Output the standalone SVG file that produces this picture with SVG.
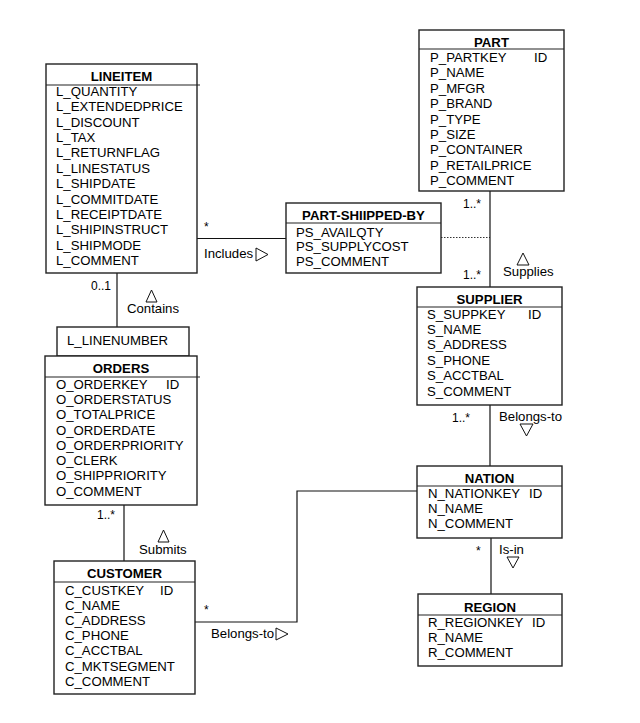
<svg xmlns="http://www.w3.org/2000/svg" width="640" height="723" viewBox="0 0 640 723">
<style>
.box{fill:#fff;stroke:#222;stroke-width:1.4}
.sep{stroke:#222;stroke-width:1.2}
.ln{stroke:#111;stroke-width:1.2;fill:none}
.dot{stroke:#333;stroke-width:1;stroke-dasharray:1.5 1.5;fill:none}
.tri{fill:#fff;stroke:#111;stroke-width:1}
text{font-family:"Liberation Sans",Arial,sans-serif;font-size:13.2px;fill:#000}
.t{font-weight:bold;text-anchor:middle}
.m{font-size:12px}
</style>
<rect width="640" height="723" fill="#fff"/>
<g id="connectors">
<line class="ln" x1="197" y1="238.5" x2="286" y2="238.5"/>
<line class="dot" x1="441" y1="237.5" x2="490" y2="237.5"/>
<line class="ln" x1="490" y1="191" x2="490" y2="287"/>
<line class="ln" x1="490" y1="405" x2="490" y2="466"/>
<line class="ln" x1="491" y1="538" x2="491" y2="594"/>
<line class="ln" x1="117" y1="273" x2="117" y2="327"/>
<line class="ln" x1="124" y1="505" x2="124" y2="561"/>
<polyline class="ln" points="417,491 297,491 297,622 195,622"/>
<text x="204" y="231" class="m">*</text>
<text x="204" y="258">Includes</text>
<polygon class="tri" points="256,248 256,261 268,254.5"/>
<text x="463" y="208" class="m">1..*</text>
<text x="463" y="279" class="m">1..*</text>
<polygon class="tri" points="517,265 529,265 523,253"/>
<text x="503" y="276">Supplies</text>
<text x="452" y="422" class="m">1..*</text>
<text x="499" y="421">Belongs-to</text>
<polygon class="tri" points="520,424 533,424 526.5,436"/>
<text x="476" y="555" class="m">*</text>
<text x="499" y="554">Is-in</text>
<polygon class="tri" points="507,557 519,557 513,568"/>
<text x="91" y="290" class="m">0..1</text>
<polygon class="tri" points="146,302 157,302 151.5,290"/>
<text x="127" y="313">Contains</text>
<text x="97" y="519" class="m">1..*</text>
<polygon class="tri" points="158,542 169,542 163.5,530"/>
<text x="139" y="554">Submits</text>
<text x="204" y="614" class="m">*</text>
<text x="211" y="638">Belongs-to</text>
<polygon class="tri" points="276,628 276,640 288,634"/>
</g>
<g id="lineitem">
<rect class="box" x="46" y="64" width="151" height="209"/>
<line class="sep" x1="46" y1="85" x2="200" y2="85"/>
<text x="121.5" y="80.5" class="t">LINEITEM</text>
<text x="56" y="96">L_QUANTITY</text>
<text x="56" y="111.4">L_EXTENDEDPRICE</text>
<text x="56" y="126.7">L_DISCOUNT</text>
<text x="56" y="142.1">L_TAX</text>
<text x="56" y="157.4">L_RETURNFLAG</text>
<text x="56" y="172.8">L_LINESTATUS</text>
<text x="56" y="188.1">L_SHIPDATE</text>
<text x="56" y="203.5">L_COMMITDATE</text>
<text x="56" y="218.8">L_RECEIPTDATE</text>
<text x="56" y="234.2">L_SHIPINSTRUCT</text>
<text x="56" y="249.5">L_SHIPMODE</text>
<text x="56" y="264.9">L_COMMENT</text>
</g>
<g id="part">
<rect class="box" x="419" y="30" width="145" height="161"/>
<line class="sep" x1="419" y1="49" x2="564" y2="49"/>
<text x="491.5" y="46.5" class="t">PART</text>
<text x="430" y="62">P_PARTKEY</text>
<text x="534" y="62">ID</text>
<text x="430" y="77.4">P_NAME</text>
<text x="430" y="92.8">P_MFGR</text>
<text x="430" y="108.2">P_BRAND</text>
<text x="430" y="123.6">P_TYPE</text>
<text x="430" y="139">P_SIZE</text>
<text x="430" y="154.4">P_CONTAINER</text>
<text x="430" y="169.8">P_RETAILPRICE</text>
<text x="430" y="185.2">P_COMMENT</text>
</g>
<g id="partsupp">
<rect class="box" x="286" y="203" width="155" height="70"/>
<line class="sep" x1="286" y1="223" x2="441" y2="223"/>
<text x="363.5" y="219.6" class="t">PART-SHIIPPED-BY</text>
<text x="296" y="237">PS_AVAILQTY</text>
<text x="296" y="251">PS_SUPPLYCOST</text>
<text x="296" y="265.5">PS_COMMENT</text>
</g>
<g id="supplier">
<rect class="box" x="417" y="287" width="145" height="118"/>
<line class="sep" x1="417" y1="307" x2="562" y2="307"/>
<text x="489.5" y="303.6" class="t">SUPPLIER</text>
<text x="427" y="318.6">S_SUPPKEY</text>
<text x="528" y="318.6">ID</text>
<text x="427" y="334">S_NAME</text>
<text x="427" y="349.4">S_ADDRESS</text>
<text x="427" y="364.8">S_PHONE</text>
<text x="427" y="380.2">S_ACCTBAL</text>
<text x="427" y="395.6">S_COMMENT</text>
</g>
<g id="nation">
<rect class="box" x="417" y="466" width="145" height="72"/>
<line class="sep" x1="417" y1="486" x2="562" y2="486"/>
<text x="489.5" y="482.6" class="t">NATION</text>
<text x="428" y="497.6">N_NATIONKEY</text>
<text x="529" y="497.6">ID</text>
<text x="428" y="512.9">N_NAME</text>
<text x="428" y="528.3">N_COMMENT</text>
</g>
<g id="region">
<rect class="box" x="418" y="594" width="144" height="72"/>
<line class="sep" x1="418" y1="615" x2="562" y2="615"/>
<text x="490" y="611.6" class="t">REGION</text>
<text x="428" y="626.6">R_REGIONKEY</text>
<text x="532" y="626.6">ID</text>
<text x="428" y="641.9">R_NAME</text>
<text x="428" y="657.2">R_COMMENT</text>
</g>
<g id="linenumber">
<rect class="box" x="57" y="327" width="132" height="29"/>
<text x="67" y="344.6">L_LINENUMBER</text>
</g>
<g id="orders">
<rect class="box" x="45" y="356" width="152" height="149"/>
<line class="sep" x1="45" y1="377" x2="200" y2="377"/>
<text x="121" y="372.6" class="t">ORDERS</text>
<text x="56" y="388.6">O_ORDERKEY</text>
<text x="166" y="388.6">ID</text>
<text x="56" y="403.9">O_ORDERSTATUS</text>
<text x="56" y="419.2">O_TOTALPRICE</text>
<text x="56" y="434.5">O_ORDERDATE</text>
<text x="56" y="449.8">O_ORDERPRIORITY</text>
<text x="56" y="465.1">O_CLERK</text>
<text x="56" y="480.4">O_SHIPPRIORITY</text>
<text x="56" y="495.7">O_COMMENT</text>
</g>
<g id="customer">
<rect class="box" x="54" y="561" width="141" height="133"/>
<line class="sep" x1="54" y1="582" x2="195" y2="582"/>
<text x="124.5" y="577.6" class="t">CUSTOMER</text>
<text x="65" y="594.6">C_CUSTKEY</text>
<text x="160" y="594.6">ID</text>
<text x="65" y="609.8">C_NAME</text>
<text x="65" y="625">C_ADDRESS</text>
<text x="65" y="640.2">C_PHONE</text>
<text x="65" y="655.4">C_ACCTBAL</text>
<text x="65" y="670.6">C_MKTSEGMENT</text>
<text x="65" y="685.8">C_COMMENT</text>
</g>
</svg>
